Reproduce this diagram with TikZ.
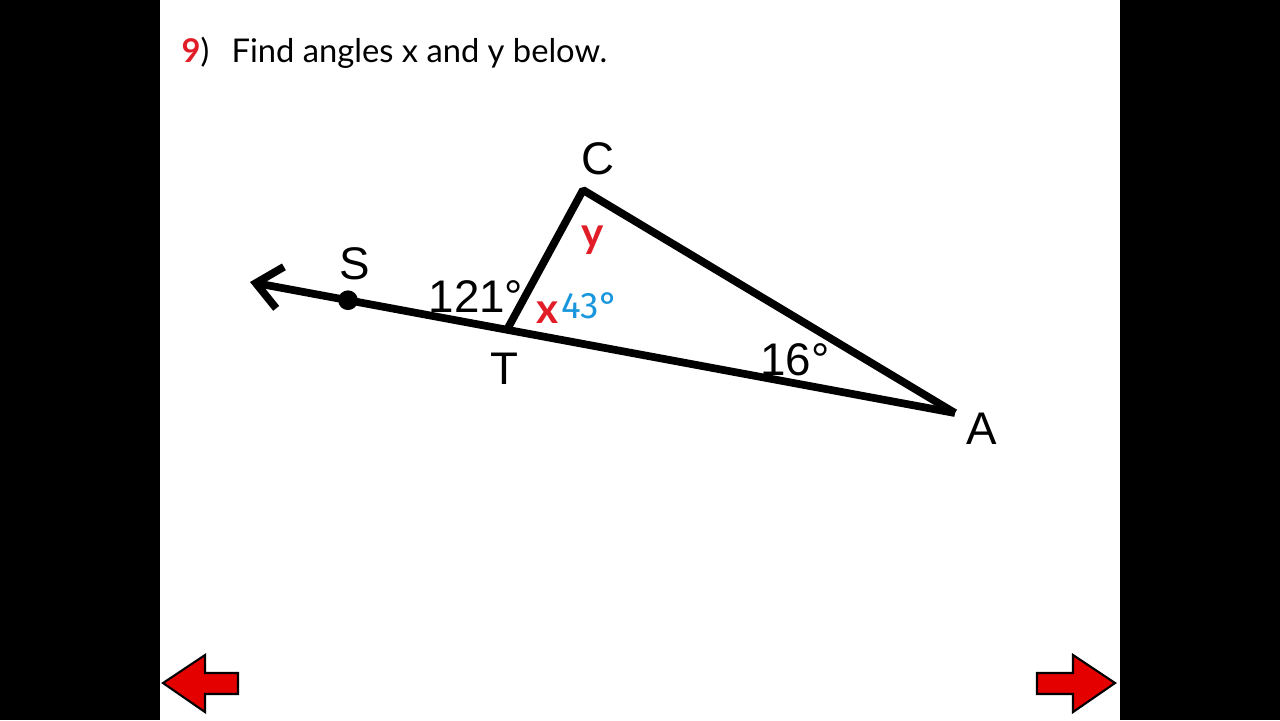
\documentclass[tikz,border=0pt]{standalone}
\usepackage{fontspec}
\setmainfont{Liberation Sans}
\newfontfamily\gillfont{Lato}
\newfontfamily\penfont{Fira Sans}
\usetikzlibrary{arrows.meta,calc}

\definecolor{markred}{RGB}{225,30,40}
\definecolor{penblue}{RGB}{25,150,220}

\tikzset{
    edge/.style={line width=2.2pt, line join=bevel, line cap=butt},
    raytip/.style={-{Straight Barb[length=7pt, width=12pt, line width=2.2pt]}},
    ptlabel/.style={font=\fontsize{13}{13}\selectfont, inner sep=0pt},
    unknown/.style={font=\gillfont\bfseries\fontsize{12}{12}\selectfont, text=markred, inner sep=0pt},
    navarrow/.style={fill=red!90!black, draw=black, line width=0.6pt, line join=miter},
}

\begin{document}
\begin{tikzpicture}[x=0.01cm, y=-0.01cm]
    \useasboundingbox (0, 0) rectangle (1280, 720);
    % side bars
    \fill[black] (0, 0) rectangle (160, 720);
    \fill[black] (1120, 0) rectangle (1280, 720);

    % title
    \node[anchor=west, inner sep=0pt, font=\gillfont\fontsize{9.3}{9.3}\selectfont] (title) at (181, 53)
        {{\bfseries\color{markred}9}) \ \,Find angles x and y below.};

    % points
    \coordinate (E) at (250, 282);
    \coordinate (A) at (955, 413);
    \coordinate (C) at (583, 190);
    \coordinate (T) at ($(E)!0.3645!(A)$);
    \coordinate (S) at ($(E)!0.139!(A)$);

    % triangle and ray
    \draw[edge, raytip] (A) -- (E);
    \draw[edge] (T) -- (C) -- (A);
    \fill (S) circle[radius=2.8pt];

    % point labels
    \node[ptlabel] (labC) at (598, 159) {C};
    \node[ptlabel] (labS) at (355, 264) {S};
    \node[ptlabel] (labT) at (504, 369) {T};
    \node[ptlabel] (labA) at (982, 429) {A};

    % angles
    \node[ptlabel] (ang121) at (476, 297) {121°};
    \node[ptlabel] (ang16) at (795, 360) {16°};
    \node[unknown] (angy) at (593, 240) {y};
    \node[unknown] (angx) at (548, 313) {x};
    \node[inner sep=0pt, text=penblue, font=\penfont\fontsize{10.5}{10.5}\selectfont] (ang43) at (590, 306) {43°};

    % navigation arrows
    \draw[navarrow] (163, 683) -- (205, 655) -- (205, 673) -- (238, 673)
        -- (238, 694) -- (205, 694) -- (205, 712) -- cycle;
    \draw[navarrow] (1115, 683) -- (1073, 655) -- (1073, 673) -- (1037, 673)
        -- (1037, 694) -- (1073, 694) -- (1073, 712) -- cycle;
\end{tikzpicture}
\end{document}
